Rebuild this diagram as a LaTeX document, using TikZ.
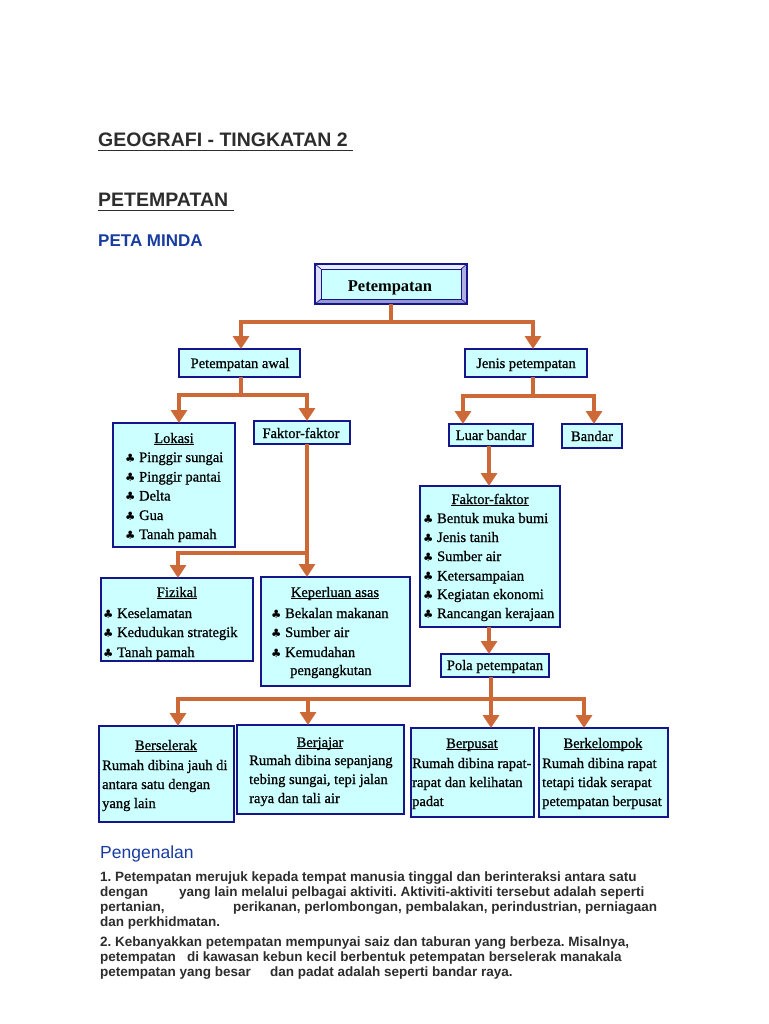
\documentclass[tikz,border=0pt]{standalone}
\usepackage{fontspec}
\setmainfont{Liberation Serif}
\newfontfamily\sansf{Liberation Sans}
\newfontfamily\serf[FakeBold=0.8]{Liberation Serif}
\newfontfamily\symf{DejaVu Sans}
\usetikzlibrary{arrows.meta}
\definecolor{navy}{RGB}{22,22,140}
\definecolor{cyanbg}{RGB}{204,255,255}
\definecolor{orng}{RGB}{205,105,55}
\definecolor{headgray}{RGB}{45,45,45}
\definecolor{headblue}{RGB}{25,60,160}
\definecolor{bevbase}{RGB}{200,200,240}
\definecolor{bevtop}{RGB}{235,235,255}
\definecolor{bevleft}{RGB}{222,222,250}
\definecolor{bevbot}{RGB}{150,150,210}
\definecolor{bevright}{RGB}{175,175,225}
\newcommand\fs[1]{\fontsize{#1}{#1}\selectfont}
\newcommand\club{{\symf\fs{11.5}♣}}
\newcommand\bul[1]{\setbox0\hbox{#1}\rlap{\rule[-2pt]{\wd0}{1pt}}\box0}
\newcommand\hul[1]{\setbox0\hbox{#1}\rlap{\rule[-4.5pt]{\wd0}{1.5pt}}\box0}
\tikzset{
  bx/.style={draw=navy, line width=1.8pt, fill=cyanbg, inner sep=0pt, outer sep=0pt, anchor=north west},
  tx/.style={inner sep=0pt, anchor=base, font=\serf\fs{14.5}, text=black},
  txl/.style={tx, anchor=base west},
  ln/.style={draw=orng, line width=3.5pt},
  arr/.style={ln, -{Triangle[width=16pt,length=13pt]}},
  para/.style={inner sep=0pt, anchor=base west, font=\sansf\bfseries\fs{13.5}\frenchspacing, text=headgray}
}
\begin{document}
\begin{tikzpicture}[x=1pt,y=-1pt]
\useasboundingbox[fill=white] (0,0) rectangle (768,1024);

% headings
\node[inner sep=0pt, anchor=base west, font=\sansf\bfseries\fs{19.5}, text=headgray] (h1) at (98,147) {\hul{GEOGRAFI - TINGKATAN 2\ }};
\node[inner sep=0pt, anchor=base west, font=\sansf\bfseries\fs{19.5}, text=headgray] (h2) at (98,207) {\hul{PETEMPATAN\ }};
\node[inner sep=0pt, anchor=base west, font=\sansf\bfseries\fs{17}, text=headblue] (h3) at (98,247) {PETA MINDA};

% root box with bevel
\node[bx, fill=bevbase, line width=1.5pt, minimum width=152pt, minimum height=40pt] (root) at (315,264) {};
\fill[bevtop] (315,264) -- (467,264) -- (461,269) -- (321,269) -- cycle;
\fill[bevleft] (315,264) -- (321,269) -- (321,299) -- (315,304) -- cycle;
\fill[bevbot] (315,304) -- (321,299) -- (461,299) -- (467,304) -- cycle;
\fill[bevright] (467,264) -- (467,304) -- (461,299) -- (461,269) -- cycle;
\draw[navy, line width=0.6pt] (315,264) -- (321,269) (467,264) -- (461,269) (315,304) -- (321,299) (467,304) -- (461,299);
\draw[navy, line width=1.5pt] (315,264) rectangle (467,304);
\draw[navy, line width=1pt, fill=cyanbg] (321,269) rectangle (461,299);
\node[inner sep=0pt, anchor=base, font=\bfseries\fs{16.5}] (roott) at (390,291) {Petempatan};

% boxes
\node[bx, minimum width=121pt, minimum height=28pt] (awal) at (179,349) {};
\node[bx, minimum width=122pt, minimum height=28pt] (jenis) at (465,349) {};
\node[bx, minimum width=122pt, minimum height=124pt] (lokasi) at (113,423) {};
\node[bx, minimum width=96pt, minimum height=23pt] (fak1) at (254,421) {};
\node[bx, minimum width=152pt, minimum height=83pt] (fiz) at (101,578) {};
\node[bx, minimum width=149pt, minimum height=109pt] (kep) at (261,577) {};
\node[bx, minimum width=84pt, minimum height=22pt] (luar) at (449,424) {};
\node[bx, minimum width=60pt, minimum height=24pt] (bandar) at (562,424) {};
\node[bx, minimum width=140pt, minimum height=141pt] (fak2) at (420,486) {};
\node[bx, minimum width=108pt, minimum height=23pt] (pola) at (441,654) {};
\node[bx, minimum width=135pt, minimum height=96pt] (bers) at (99,726) {};
\node[bx, minimum width=167pt, minimum height=89pt] (berj) at (237,725) {};
\node[bx, minimum width=123pt, minimum height=89pt] (berp) at (411,728) {};
\node[bx, minimum width=129pt, minimum height=89pt] (berk) at (539,728) {};

% box texts
\node[tx] (awalt) at (240,368) {Petempatan awal};
\node[tx] (jenist) at (526,368) {Jenis petempatan};
\node[tx] (fak1t) at (301,438) {Faktor-faktor};
\node[tx] (luart) at (491,440) {Luar bandar};
\node[tx] (bandart) at (592,441) {Bandar};
\node[tx] (polat) at (495,670) {Pola petempatan};

\node[tx] (lokh) at (174,443) {\bul{Lokasi}};
\node[txl] (lok1) at (125,462) {\club\ Pinggir sungai};
\node[txl] (lok2) at (125,481.5) {\club\ Pinggir pantai};
\node[txl] (lok3) at (125,500.5) {\club\ Delta};
\node[txl] (lok4) at (125,520) {\club\ Gua};
\node[txl] (lok5) at (125,539) {\club\ Tanah pamah};

\node[tx] (f2h) at (490,504) {\bul{Faktor-faktor}};
\node[txl] (f21) at (423,523) {\club\ Bentuk muka bumi};
\node[txl] (f22) at (423,542) {\club\ Jenis tanih};
\node[txl] (f23) at (423,561) {\club\ Sumber air};
\node[txl] (f24) at (423,580.5) {\club\ Ketersampaian};
\node[txl] (f25) at (423,599) {\club\ Kegiatan ekonomi};
\node[txl] (f26) at (423,618) {\club\ Rancangan kerajaan};

\node[tx] (fizh) at (177,597) {\bul{Fizikal}};
\node[txl] (fiz1) at (103,618) {\club\ Keselamatan};
\node[txl] (fiz2) at (103,637) {\club\ Kedudukan strategik};
\node[txl] (fiz3) at (103,657) {\club\ Tanah pamah};

\node[tx] (keph) at (335,597) {\bul{Keperluan asas}};
\node[txl] (kep1) at (271,618) {\club\ Bekalan makanan};
\node[txl] (kep2) at (271,637) {\club\ Sumber air};
\node[txl] (kep3) at (271,657) {\club\ Kemudahan};
\node[txl] (kep4) at (290,675) {pengangkutan};

\node[tx] (bersh) at (166,750) {\bul{Berselerak}};
\node[txl] (bers1) at (102,770) {Rumah dibina jauh di};
\node[txl] (bers2) at (102,789) {antara satu dengan};
\node[txl] (bers3) at (102,808) {yang lain};

\node[tx] (berjh) at (320,747) {\bul{Berjajar}};
\node[txl] (berj1) at (249,765) {Rumah dibina sepanjang};
\node[txl] (berj2) at (249,784) {tebing sungai, tepi jalan};
\node[txl] (berj3) at (249,803) {raya dan tali air};

\node[tx] (berph) at (472,748) {\bul{Berpusat}};
\node[txl] (berp1) at (412,768) {Rumah dibina rapat-};
\node[txl] (berp2) at (412,787) {rapat dan kelihatan};
\node[txl] (berp3) at (412,806) {padat};

\node[tx] (berkh) at (603,748) {\bul{Berkelompok}};
\node[txl] (berk1) at (542,768) {Rumah dibina rapat};
\node[txl] (berk2) at (542,787) {tetapi tidak serapat};
\node[txl] (berk3) at (542,806) {petempatan berpusat};

% connectors
\coordinate (j1) at (391,322);
\coordinate (j2) at (241,395);
\coordinate (j3) at (307,553);
\coordinate (j4) at (533,396);
\coordinate (j5) at (491,699);
\draw[ln] (root.south) -- (j1);
\draw[arr] (j1) -| ([xshift=1.5pt]awal.north);
\draw[arr] (j1) -| ([xshift=7pt]jenis.north);
\draw[ln] ([xshift=1.5pt]awal.south) -- (j2);
\draw[arr] (j2) -| ([xshift=5pt]lokasi.north);
\draw[arr] (j2) -| ([xshift=5pt]fak1.north);
\draw[ln] ([xshift=5pt]fak1.south) -- (j3);
\draw[arr] (j3) -| ([xshift=1pt]fiz.north);
\draw[arr] (j3) -- ([xshift=-28.5pt]kep.north);
\draw[ln] ([xshift=7pt]jenis.south) -- (j4);
\draw[arr] (j4) -| ([xshift=-28pt]luar.north);
\draw[arr] (j4) -| ([xshift=2pt]bandar.north);
\draw[arr] ([xshift=-2pt]luar.south) -- ([xshift=-1pt]fak2.north);
\draw[arr] ([xshift=-1pt]fak2.south) -- ([xshift=-6pt]pola.north);
\draw[ln] ([xshift=-4pt]pola.south) -- (j5);
\draw[arr] (j5) -| ([xshift=11.5pt]bers.north);
\draw[arr] (j5) -| ([xshift=-12.5pt]berj.north);
\draw[arr] (j5) -- ([xshift=18.5pt]berp.north);
\draw[arr] (j5) -| ([xshift=-19.5pt]berk.north);

% bottom text
\node[inner sep=0pt, anchor=base west, font=\sansf\fs{17.5}, text=headblue] (peng) at (100,858) {Pengenalan};
\node[para] (p1) at (100,881) {1. Petempatan merujuk kepada tempat manusia tinggal dan berinteraksi antara satu};
\node[para] (p2a) at (100,896) {dengan};
\node[para] (p2b) at (179,896) {yang lain melalui pelbagai aktiviti. Aktiviti-aktiviti tersebut adalah seperti};
\node[para] (p3a) at (100,911) {pertanian,};
\node[para] (p3b) at (233,911) {perikanan, perlombongan, pembalakan, perindustrian, perniagaan};
\node[para] (p4) at (100,926) {dan perkhidmatan.};
\node[para] (p5) at (100,946) {2. Kebanyakkan petempatan mempunyai saiz dan taburan yang berbeza. Misalnya,};
\node[para] (p6a) at (100,961) {petempatan};
\node[para] (p6b) at (187,961) {di kawasan kebun kecil berbentuk petempatan berselerak manakala};
\node[para] (p7a) at (100,976) {petempatan yang besar};
\node[para] (p7b) at (270,976) {dan padat adalah seperti bandar raya.};
\end{tikzpicture}
\end{document}
